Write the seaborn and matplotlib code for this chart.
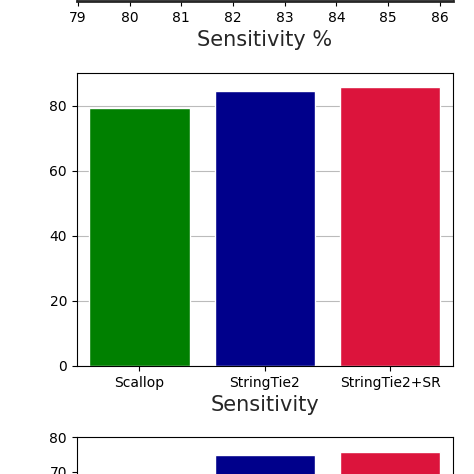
import matplotlib
matplotlib.use("Agg")
import matplotlib.pyplot as plt
import seaborn as sns
import pandas as pd

tools = ["Scallop", "StringTie2", "StringTie2+SR"]
sensitivity = [79.3, 84.5, 85.7]
precision = [65.0, 74.9, 75.7]
colors = ["green", "darkblue", "crimson"]

sns.set_style("ticks")
plt.rcParams['font.family'] = ['DejaVu Sans']
plt.rcParams['text.color'] = 'black'
plt.rcParams['xtick.color'] = 'black'
plt.rcParams['ytick.color'] = 'black'

fig = plt.figure(figsize=(4.74, 4.74), dpi=100)

# top panel (only its bottom edge is visible)
ax_top = fig.add_axes([0.162, 0.998, 0.793, 0.5])
sns.barplot(x=sensitivity, y=tools, hue=tools, palette=colors, legend=False, ax=ax_top, orient="h")
ax_top.set_xlim(78.98, 86.25)
ax_top.set_xticks(range(79, 87))
ax_top.set_yticks([])
ax_top.set_ylabel("")
ax_top.set_xlabel("Sensitivity %", fontsize=15)
ax_top.tick_params(labelsize=10)
ax_top.spines["bottom"].set_linewidth(2)

# middle panel
df = pd.DataFrame({"tool": tools, "value": sensitivity})
ax = fig.add_axes([0.162, 0.228, 0.793, 0.618])
sns.barplot(data=df, x="tool", y="value", hue="tool", palette=colors, legend=False,
            saturation=1, width=0.8, ax=ax)
ax.set_ylim(0, 90)
ax.set_yticks([0, 20, 40, 60, 80])
ax.yaxis.grid(True, color="#bbbbbb", linewidth=0.8)
ax.set_axisbelow(True)
ax.set_xlabel("Sensitivity", fontsize=15)
ax.set_ylabel("")
ax.tick_params(labelsize=10)
for s in ax.spines.values():
    s.set_visible(True)
    s.set_color("black")

# bottom panel (only its top part is visible)
df2 = pd.DataFrame({"tool": tools, "value": precision})
ax_b = fig.add_axes([0.162, 0.078 - 0.295, 0.793, 0.295])
sns.barplot(data=df2, x="tool", y="value", hue="tool", palette=colors, legend=False,
            saturation=1, width=0.8, ax=ax_b)
ax_b.set_ylim(40, 80)
ax_b.set_yticks([40, 50, 60, 70, 80])
ax_b.set_ylabel("")
ax_b.tick_params(labelsize=10)
for s in ax_b.spines.values():
    s.set_visible(True)
    s.set_color("black")

fig.savefig("out.png", dpi=100)
